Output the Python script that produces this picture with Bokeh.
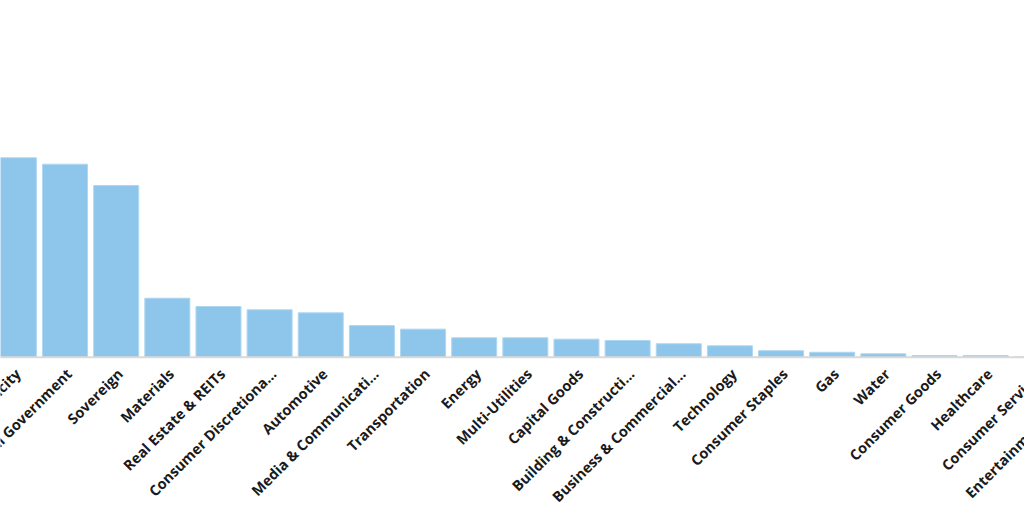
from math import pi

from bokeh.core.properties import value
from bokeh.embed import file_html
from bokeh.models import ColumnDataSource, LabelSet, Range1d, Span
from bokeh.plotting import figure
from bokeh.resources import INLINE

# sectors, in the order shown (labels truncated as on the chart)
sectors = [
    "Electricity", "Local Government", "Sovereign", "Materials",
    "Real Estate & REITs", "Consumer Discretiona...", "Automotive",
    "Media & Communicati...", "Transportation", "Energy", "Multi-Utilities",
    "Capital Goods", "Building & Constructi...", "Business & Commercial...",
    "Technology", "Consumer Staples", "Gas", "Water", "Consumer Goods",
    "Healthcare", "Consumer Services", "Entertainment & Leisu...",
]
amounts = [
    117.3, 113.5, 101.0, 34.7, 29.8, 27.9, 26.1, 18.6, 16.5, 11.4, 11.4,
    10.6, 9.8, 7.9, 6.7, 3.8, 2.9, 2.0, 1.0, 1.0, 0.1, 0.05,
]

pos = list(range(len(sectors)))
src = ColumnDataSource(data=dict(x=pos, top=amounts, name=sectors,
                                 base=[0] * len(sectors)))

# the chart is a crop of a wider one: first and last bars run off the edges,
# so the frame fills the whole canvas and the labels live under y = 0
p = figure(width=1024, height=512, output_backend="svg",
           toolbar_location=None, tools="",
           x_range=Range1d(-0.262, 19.76), y_range=Range1d(-91.35, 209.8),
           min_border=0)

p.vbar(x="x", top="top", width=0.88, source=src,
       fill_color="#8dc6ea", line_color="#aed7f1", line_width=1)

p.xaxis.visible = False
p.yaxis.visible = False
p.xgrid.grid_line_color = None
p.ygrid.grid_line_color = None
p.outline_line_color = None

p.add_layout(Span(location=0, dimension="width",
                  line_color="#d9d9d9", line_width=2))

labels = LabelSet(x="x", y="base", text="name", source=src,
                  angle=pi / 4, text_align="right", text_baseline="middle",
                  x_offset=4, y_offset=-14,
                  text_font=value("Open Sans"), text_font_style="bold",
                  text_font_size="14.5px", text_color="#1a1a1a")
p.add_layout(labels)

open("out.html", "w").write(file_html(p, INLINE))
